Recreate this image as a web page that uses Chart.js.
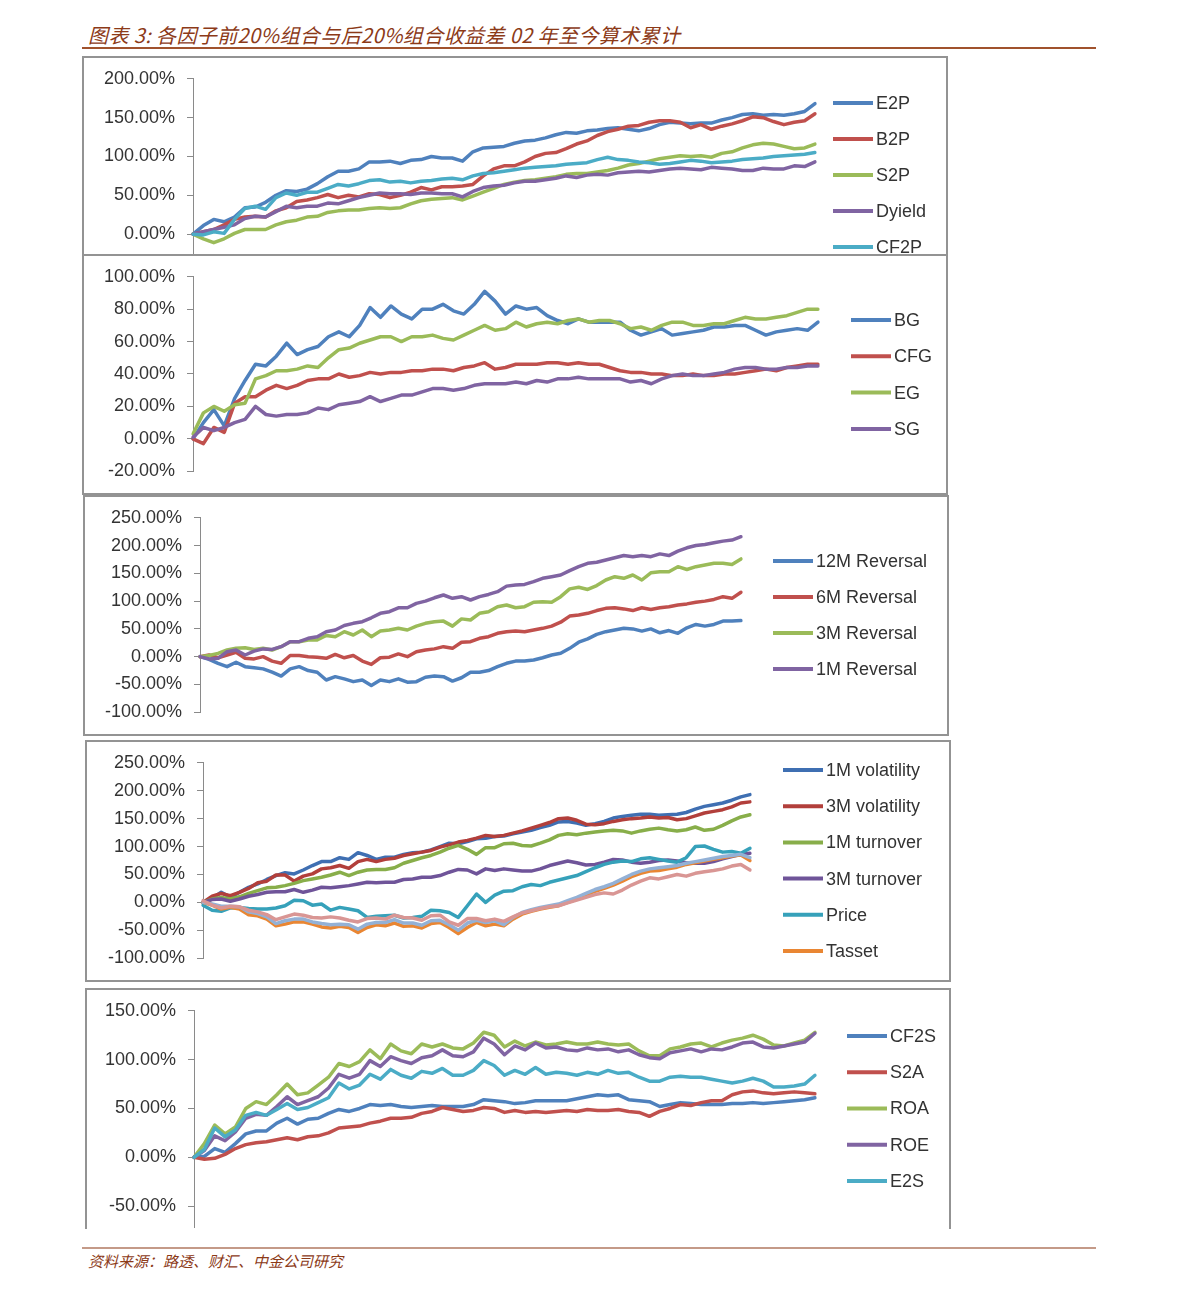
<!DOCTYPE html>
<html><head><meta charset="utf-8">
<script src="https://cdn.jsdelivr.net/npm/chart.js@4.4.0/dist/chart.umd.min.js"></script>
<style>
body{margin:0;background:#fff;width:1191px;height:1289px;position:relative;overflow:hidden;font-family:"Liberation Sans",Arial,sans-serif;}
.title{position:absolute;left:88px;top:22px;font-style:italic;font-size:20px;line-height:26px;letter-spacing:0.4px;font-family:"Noto Sans CJK SC",sans-serif;color:#8c3a18;white-space:nowrap;}
.rule1{position:absolute;left:82px;top:47px;width:1014px;height:2px;background:#a0522d;}
.rule2{position:absolute;left:82px;top:1247px;width:1014px;height:2px;background:#c49a88;}
.foot{position:absolute;left:88px;top:1251px;font-style:italic;font-size:15px;line-height:20px;font-family:"Noto Sans CJK SC",sans-serif;color:#8c3a18;white-space:nowrap;}
.clip{position:absolute;overflow:hidden;}
.frame{position:absolute;border:2px solid #939393;box-sizing:border-box;pointer-events:none;}
canvas{position:absolute;left:0;top:0;}
</style></head>
<body>
<div class="title">图表 3: 各因子前20%组合与后20%组合收益差 02 年至今算术累计</div>
<div class="rule1"></div>
<div class="rule2"></div>
<div class="foot">资料来源：路透、财汇、中金公司研究</div>
<div id="root"></div>
<script>
// time steps (categories)
const steps = [0,1,2,3,4,5,6,7,8,9,10,11,12,13,14,15,16,17,18,19,20,21,22,23,24,25,26,27,28,29,30,31,32,33,34,35,36,37,38,39,40,41,42,43,44,45,46,47,48,49,50,51,52,53,54,55,56,57,58,59,60];

// Panel 1: value factors
const p1_E2P = [0,11,19,16,22,34,35,41,50,56,55,58,65,74,81,81,84,93,93,94,91,95,96,100,98,98,94,106,111,112,113,117,120,121,124,128,131,130,133,134,136,137,135,133,136,141,144,143,142,143,143,147,150,154,155,153,154,153,155,158,168];
const p1_B2P = [0,3,6,12,19,22,23,22,30,34,42,44,47,51,47,50,48,52,51,47,50,54,60,57,61,61,62,64,75,84,88,88,93,100,104,105,110,116,120,127,132,135,139,140,144,146,146,144,137,141,135,139,142,146,151,150,145,141,144,146,155];
const p1_S2P = [0,-6,-11,-6,1,6,6,6,12,16,18,22,23,28,30,31,31,33,34,33,34,39,43,45,46,47,44,49,54,59,64,67,69,70,72,74,77,78,78,80,82,85,89,91,94,97,99,101,100,101,99,104,106,111,115,117,116,113,110,111,116];
const p1_Dyield = [0,3,6,9,12,20,23,22,29,36,34,36,36,40,39,43,47,50,53,52,52,51,53,53,52,52,48,55,60,62,63,66,68,68,70,72,75,73,76,77,76,79,80,81,80,82,84,85,84,83,86,85,84,82,82,85,84,84,88,87,93];
const p1_CF2P = [0,-1,3,1,19,33,36,32,47,53,50,54,54,59,64,62,65,69,70,67,68,66,68,69,71,72,70,75,78,79,81,83,85,86,87,88,90,91,92,96,99,96,95,93,92,90,91,93,95,94,92,93,94,96,97,98,100,101,102,103,105];

// Panel 2: growth factors
const p2_BG = [0,10,18,8,25,36,46,45,51,59,52,55,57,63,66,63,70,81,75,82,77,74,80,80,83,79,77,83,91,85,77,82,80,81,76,73,71,74,72,72,72,72,67,64,66,68,64,65,66,67,69,69,70,70,67,64,66,67,68,67,72];
const p2_CFG = [0,-3,7,4,22,26,26,30,33,31,33,36,37,37,40,38,39,41,40,41,41,42,42,43,43,42,44,45,47,43,44,46,46,46,47,47,46,47,46,46,44,42,41,41,40,40,39,39,40,39,39,40,40,41,42,43,42,44,45,46,46];
const p2_EG = [3,16,20,17,21,22,37,39,42,42,43,45,44,50,55,56,59,61,63,63,60,63,63,64,62,61,64,67,70,67,68,72,69,71,72,71,73,74,72,73,73,71,68,69,67,70,72,72,70,70,71,71,73,75,74,74,75,76,78,80,80];
const p2_SG = [1,7,5,7,10,12,20,15,14,15,15,16,19,18,21,22,23,26,23,25,27,27,29,31,31,30,31,33,34,34,34,35,34,36,35,37,37,38,37,37,37,37,35,36,34,37,39,40,39,39,40,41,43,44,44,43,43,44,44,45,45];

// Panel 3: reversal factors
const p3_R12 = [0,-5,-12,-18,-10,-18,-20,-22,-28,-35,-22,-18,-25,-28,-42,-36,-40,-45,-42,-52,-42,-45,-40,-46,-45,-37,-35,-36,-44,-38,-28,-28,-25,-18,-12,-8,-8,-6,-2,3,6,15,26,32,40,45,48,51,50,46,50,43,47,42,52,58,55,58,64,64,65];
const p3_R6 = [0,3,-2,3,8,-3,-4,0,-8,-12,2,2,0,-1,-3,4,-2,2,-8,-14,-2,-1,5,0,9,12,14,18,15,26,27,33,36,42,45,46,45,48,51,55,62,73,75,78,83,87,88,86,83,88,85,88,90,93,95,98,100,103,108,105,116];
const p3_R3 = [0,2,6,12,15,16,13,15,12,18,27,27,30,30,38,36,45,39,48,36,46,48,51,48,55,60,63,64,55,68,66,78,81,90,93,88,90,98,99,98,108,122,125,121,128,138,144,141,147,138,151,153,153,162,157,162,165,168,168,166,176];
const p3_R1 = [0,-4,-3,9,12,3,10,14,13,18,27,27,33,36,45,48,56,60,63,70,78,81,88,88,96,100,106,111,105,108,102,108,112,117,127,129,130,135,141,144,147,155,162,168,170,174,178,182,180,182,180,185,182,190,196,200,202,205,208,210,216];

// Panel 4: volatility / turnover / price / size
const p4_V1 = [0,7,18,9,18,27,33,41,48,53,51,58,66,73,73,80,77,89,84,77,81,81,86,89,90,94,100,106,105,109,114,115,118,119,123,126,129,134,138,144,145,142,138,141,145,151,154,156,158,158,156,157,158,161,167,172,175,178,183,189,193];
const p4_V3 = [0,11,16,12,18,25,35,38,49,49,38,47,51,60,62,66,61,73,77,73,77,79,84,87,90,93,99,103,108,111,115,120,118,120,124,128,133,138,143,150,151,147,140,139,141,145,148,150,151,153,151,152,148,150,155,160,163,166,171,178,180];
const p4_T1 = [0,6,9,6,10,16,21,26,27,30,34,39,42,45,49,54,48,54,58,59,59,62,70,75,80,84,90,97,102,95,86,98,98,105,106,102,101,106,112,120,123,121,124,126,128,129,128,124,128,131,133,130,128,130,135,129,131,138,146,153,157];
const p4_T3 = [0,5,6,2,6,11,14,18,19,19,23,18,22,27,26,28,30,33,36,35,36,36,41,42,45,45,48,54,59,58,51,60,57,60,58,56,56,60,66,70,74,71,67,68,72,77,76,72,70,72,75,76,74,71,70,70,73,78,82,86,88];
const p4_Price = [-5,-14,-16,-10,-9,-11,-12,-12,-10,-6,4,3,-5,-3,-14,-9,-12,-15,-27,-25,-24,-23,-28,-27,-25,-14,-15,-18,-27,-6,15,0,13,20,21,28,32,30,36,40,44,48,55,62,68,72,74,73,78,80,77,74,72,80,100,101,95,90,91,88,97];
const p4_Tasset = [0,-5,-12,-9,-12,-22,-24,-30,-42,-39,-35,-35,-39,-44,-46,-43,-45,-54,-45,-40,-42,-37,-43,-42,-46,-38,-36,-45,-56,-45,-36,-42,-39,-42,-30,-21,-16,-12,-9,-6,0,6,13,20,25,31,38,46,52,56,57,60,63,68,71,74,77,80,83,85,75];
const p4_Pink = [3,-5,-10,-7,-8,-14,-17,-22,-31,-26,-21,-23,-27,-28,-26,-28,-32,-35,-29,-28,-30,-23,-27,-28,-32,-24,-23,-35,-41,-29,-29,-33,-30,-34,-26,-19,-15,-11,-8,-6,-1,4,9,14,17,15,22,31,38,44,42,46,50,47,52,55,57,60,65,68,58];
const p4_LightBlue = [0,-3,-7,-7,-8,-17,-20,-26,-38,-33,-30,-30,-35,-38,-40,-39,-40,-48,-39,-36,-36,-31,-37,-37,-41,-33,-32,-40,-50,-37,-32,-36,-33,-40,-27,-18,-13,-9,-6,-3,3,9,16,23,28,34,42,50,56,60,62,64,66,70,73,76,79,82,84,86,80];

// Panel 5: quality factors
const p5_CF2S = [0,1,9,5,14,24,27,27,35,40,34,39,40,45,49,47,50,54,53,54,52,51,52,53,52,52,52,54,59,58,57,55,56,58,58,58,58,60,62,64,63,64,59,58,57,52,54,56,55,54,54,54,55,55,56,55,56,57,58,59,61];
const p5_S2A = [0,-2,-1,3,9,13,15,16,18,20,18,21,22,25,30,31,32,35,37,40,40,41,45,47,51,49,47,48,51,50,46,48,46,47,46,47,48,47,49,48,48,49,47,46,42,47,50,54,53,56,58,58,64,67,68,66,65,66,67,66,65];
const p5_ROA = [0,14,33,24,31,50,57,54,64,75,64,66,74,82,96,93,98,110,101,116,109,106,116,113,116,112,111,117,128,125,113,119,114,118,115,116,118,116,116,118,116,115,116,109,104,104,111,113,116,117,113,117,120,122,125,121,115,114,117,120,128];
const p5_ROE = [0,7,22,17,26,40,44,43,52,62,54,58,62,71,85,81,85,99,93,103,99,96,102,104,110,104,103,108,122,116,105,114,110,117,112,113,110,109,112,110,111,108,110,105,102,101,107,109,111,108,111,110,113,117,118,113,112,114,116,118,127];
const p5_E2S = [0,8,30,21,28,43,46,43,49,55,49,51,56,61,76,70,74,85,80,90,84,81,88,86,91,84,84,89,99,94,84,89,85,92,85,87,86,84,87,85,89,86,87,82,78,78,82,83,82,82,80,78,76,78,81,78,72,72,73,75,84];

// tick ranges
const p1_ticks = {min:-50, max:200, step:50};
const p2_ticks = {min:-20, max:100, step:20};
const p3_ticks = {min:-100, max:250, step:50};
const p4_ticks = {min:-100, max:250, step:50};
const p5_ticks = {min:-100, max:150, step:50};

const C = {blue:'#4F81BD', red:'#C0504D', green:'#9BBB59', purple:'#8064A2', cyan:'#4BACC6'};

const panels = [
  {box:[82,56,865,199], canvasH:245, pad:{top:22,right:132,bottom:28}, axisW:111, ticks:p1_ticks,
   legend:{x:751,y:47,gap:36,count:5},
   series:[['E2P',p1_E2P,C.blue],['B2P',p1_B2P,C.red],['S2P',p1_S2P,C.green],['Dyield',p1_Dyield,C.purple],['CF2P',p1_CF2P,C.cyan]]},
  {box:[82,254,865,240], canvasH:240, pad:{top:22,right:129,bottom:22}, axisW:111, ticks:p2_ticks,
   legend:{x:769,y:66,gap:36.3,count:4},
   series:[['BG',p2_BG,C.blue],['CFG',p2_CFG,C.red],['EG',p2_EG,C.green],['SG',p2_SG,C.purple]]},
  {box:[83,495,865,240], canvasH:240, pad:{top:22,right:207,bottom:22}, axisW:117, ticks:p3_ticks,
   legend:{x:690,y:66,gap:36,count:4},
   series:[['12M Reversal',p3_R12,C.blue],['6M Reversal',p3_R6,C.red],['3M Reversal',p3_R3,C.green],['1M Reversal',p3_R1,C.purple]]},
  {box:[85,740,865,241], canvasH:241, pad:{top:22,right:200,bottom:22}, axisW:118, ticks:p4_ticks,
   legend:{x:698,y:30,gap:36.2,count:6},
   series:[['1M volatility',p4_V1,'#3F6FB2'],['3M volatility',p4_V3,'#B23F3B'],['1M turnover',p4_T1,'#88AE4A'],['3M turnover',p4_T3,'#6F5499'],['Price',p4_Price,'#36A1BA'],['Tasset',p4_Tasset,'#E98633'],['',p4_LightBlue,'#93B1D6'],['',p4_Pink,'#D99694']]},
  {box:[85,988,865,240], canvasH:290, pad:{top:22,right:135,bottom:23}, axisW:109, ticks:p5_ticks, noBottom:true,
   legend:{x:762,y:48,gap:36.25,count:5},
   series:[['CF2S',p5_CF2S,C.blue],['S2A',p5_S2A,C.red],['ROA',p5_ROA,C.green],['ROE',p5_ROE,C.purple],['E2S',p5_E2S,C.cyan]]}
];

const sideLegend = {
  id:'sideLegend',
  afterDraw(chart, args, opts){
    const ctx = chart.ctx;
    ctx.save();
    ctx.font = '18px "Liberation Sans", Arial, sans-serif';
    ctx.textBaseline = 'middle';
    ctx.textAlign = 'left';
    for(let k=0;k<opts.count;k++){
      const ds = chart.data.datasets[k];
      const y = opts.y + k*opts.gap;
      ctx.strokeStyle = ds.borderColor;
      ctx.lineWidth = 4;
      ctx.lineCap = 'butt';
      ctx.beginPath(); ctx.moveTo(opts.x, y); ctx.lineTo(opts.x+40, y); ctx.stroke();
      ctx.fillStyle = '#333';
      ctx.fillText(ds.label, opts.x+43, y+1);
    }
    ctx.restore();
  }
};

Chart.defaults.font.family = '"Liberation Sans", Arial, sans-serif';
Chart.defaults.font.size = 18;
Chart.defaults.color = '#333';

const root = document.getElementById('root');
panels.forEach(p=>{
  const [L,T,W,H] = p.box;
  const clip = document.createElement('div');
  clip.className='clip';
  clip.style.cssText = `left:${L}px;top:${T}px;width:${W}px;height:${H}px;`;
  const cv = document.createElement('canvas');
  cv.width = W; cv.height = p.canvasH;
  cv.style.width = W+'px'; cv.style.height = p.canvasH+'px';
  clip.appendChild(cv);
  root.appendChild(clip);
  const fr = document.createElement('div');
  fr.className='frame';
  fr.style.cssText = `left:${L}px;top:${T}px;width:${W+1}px;height:${H+1}px;` + (p.noBottom?'border-bottom:none;':'');
  root.appendChild(fr);
  const n = p.series.length;
  new Chart(cv, {
    type:'line',
    data:{labels:steps, datasets:p.series.map((s,i)=>({label:s[0], data:s[1], borderColor:s[2], backgroundColor:s[2], borderWidth:3.5, pointRadius:0, tension:0, fill:false, order:n-i, borderJoinStyle:'round', borderCapStyle:'round'}))},
    options:{
      responsive:false, animation:false, devicePixelRatio:1,
      layout:{padding:{left:0, top:p.pad.top, right:p.pad.right, bottom:p.pad.bottom}},
      plugins:{legend:{display:false}, tooltip:{enabled:false}, sideLegend:p.legend},
      scales:{
        x:{type:'category', display:false, offset:false},
        y:{min:p.ticks.min, max:p.ticks.max,
           afterFit(scale){ scale.width = p.axisW; },
           ticks:{stepSize:p.ticks.step, padding:12, color:'#333', font:{size:18}, callback:v=>v.toFixed(2)+'%'},
           grid:{drawOnChartArea:false, drawTicks:true, tickLength:6, color:'#8a8a8a'},
           border:{display:true, color:'#8a8a8a', width:1}}
      }
    },
    plugins:[sideLegend]
  });
});
</script>
</body></html>
